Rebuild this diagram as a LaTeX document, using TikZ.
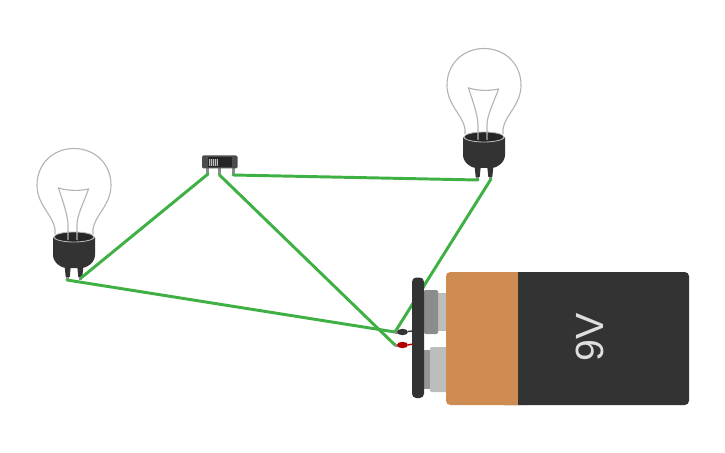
\documentclass[tikz,border=0pt]{standalone}
\usepackage{fontspec}
\setsansfont{Liberation Sans}

\definecolor{wiregreen}{HTML}{3FB044}
\definecolor{darkpart}{HTML}{333333}
\definecolor{glassgray}{HTML}{B4B4B4}
\definecolor{cellorange}{HTML}{CE8C53}
\definecolor{midgray}{HTML}{8C8C8C}
\definecolor{lightgray}{HTML}{BDBDBD}

\tikzset{
  wire/.style={draw=wiregreen, line width=2.1pt, line cap=round},
  glass/.style={draw=glassgray, line width=0.8pt},
  lamp/.pic={
    \draw[glass, fill=white] (-19,-3) -- (-19,-8) .. controls (-21,-22) and (-37,-32) .. (-37,-52)
      .. controls (-37,-73) and (-21,-88.5) .. (0,-88.5)
      .. controls (21,-88.5) and (37,-73) .. (37,-52)
      .. controls (37,-32) and (21,-22) .. (19,-8) -- (19,-3);
    \fill[darkpart] (-21,0) -- (-21,18) .. controls (-21,26) and (-12,31) .. (-8,31)
      -- (8,31) .. controls (12,31) and (21,26) .. (21,18) -- (21,0)
      arc[start angle=0, end angle=180, x radius=21, y radius=5] -- cycle;
    \fill[black!85, draw=glassgray, line width=0.6pt] (0,0) ellipse[x radius=20, y radius=5];
    \foreach \x in {-6.3,6.3} {
      \fill[darkpart] (\x-3,30) -- (\x+3,30) -- (\x+2,40) -- (\x-2,40) -- cycle;
      \fill[midgray] (\x-1.5,40) rectangle (\x+1.5,43);
    }
    \draw[glass] (-6,3) -- (-6,-12) .. controls (-6,-22) and (-12,-38) .. (-15.5,-49)
      .. controls (-5,-46) and (5,-46) .. (14.5,-48)
      .. controls (10,-35) and (3,-22) .. (3,-12) -- (3,3);
  }
}

\begin{document}
\begin{tikzpicture}[x=0.025cm, y=-0.025cm]
  \useasboundingbox (0,0) rectangle (725,453);
  % lamps
  \pic (LampA) at (74,237) {lamp};
  \pic (LampB) at (484,137) {lamp};
  % switch
  \fill[midgray] (206,167) rectangle (209,175);
  \fill[midgray] (218,167) rectangle (221,175);
  \fill[midgray] (231.5,167) rectangle (234.5,175);
  \fill[black!70, rounded corners=1pt] (202,155.5) rectangle (237.5,168.5);
  \fill[black!85] (208,157.5) rectangle (232,167);
  \fill[white!75!black] (209,159) rectangle (218,166);
  \foreach \x in {210.5,212.5,214.5,216.5} {
    \draw[black!70, line width=0.3pt] (\x,159) -- (\x,166);
  }
  % connection points
  \coordinate (A1) at (67,280);
  \coordinate (A2) at (81,278);
  \coordinate (B1) at (478,180);
  \coordinate (B2) at (491,179);
  \coordinate (S1) at (208,174);
  \coordinate (S2) at (219.5,175);
  \coordinate (S3) at (233,175);
  \coordinate (Neg) at (395,332);
  \coordinate (Pos) at (395,345);
  % wires
  \draw[wire] (A2) -- (S1);
  \draw[wire] (A1) -- (Neg);
  \draw[wire] (S2) -- (Pos);
  \draw[wire] (S3) -- (B1);
  \draw[wire] (B2) -- (Neg);
  % battery
  \fill[lightgray] (438,293) rectangle (446,331);
  \fill[midgray, rounded corners=1pt] (424,290) rectangle (438,334);
  \fill[midgray!80!lightgray] (424,350) rectangle (430,389);
  \fill[lightgray, rounded corners=1pt] (430,347) rectangle (447,392);
  \fill[darkpart, rounded corners=3pt] (412,277.5) rectangle (424,398);
  \draw[darkpart, line width=1pt] (408,331.5) -- (413,331);
  \draw[red!70!black, line width=1pt] (408,345) -- (413,344);
  \fill[midgray] (395,330.5) rectangle (398,333.5);
  \fill[midgray] (395,343.5) rectangle (398,346.5);
  \fill[darkpart] (402.5,332) ellipse[x radius=5.5, y radius=3.2];
  \fill[red!70!black] (402.5,345) ellipse[x radius=5.5, y radius=3.2];
  \fill[darkpart, rounded corners=3pt] (500,272) rectangle (689,405);
  \fill[cellorange, rounded corners=3pt] (446,272) rectangle (530,405);
  \fill[darkpart] (518,272) rectangle (535,405);
  \node[rotate=90, text=white!87!black, font=\sffamily\fontsize{28}{28}\selectfont] (Label) at (590,337) {9V};
\end{tikzpicture}
\end{document}
